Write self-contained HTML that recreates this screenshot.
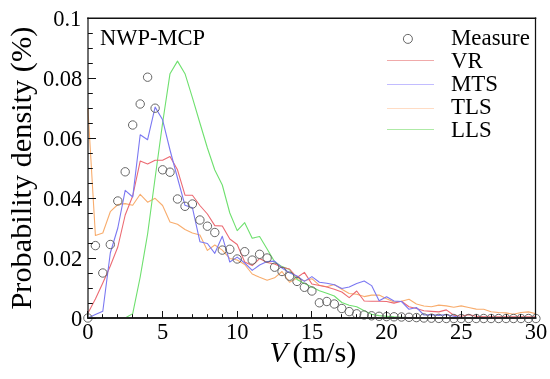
<!DOCTYPE html><html><head><meta charset="utf-8"><style>html,body{margin:0;padding:0;background:#fff}svg{display:block}</style></head><body>
<svg width="550" height="379" viewBox="0 0 550 379" font-family="Liberation Serif, Times New Roman, serif">
<rect width="550" height="379" fill="#fff"/>
<polyline points="87.9,108.5 95.4,235.5 102.8,233.0 110.3,211.7 117.8,204.5 125.2,203.6 132.7,205.3 140.2,194.3 147.6,202.2 155.1,198.3 162.6,205.5 170.0,221.9 177.5,224.3 185.0,229.5 192.4,233.0 199.9,235.0 207.4,250.4 214.8,245.0 222.3,250.1 229.8,258.5 237.2,260.0 244.7,264.5 252.2,274.0 259.6,277.2 267.1,280.2 274.6,277.8 282.0,271.5 289.5,282.2 297.0,278.3 304.4,280.7 311.9,278.7 319.4,285.3 326.8,286.8 334.3,284.5 341.8,289.3 349.2,293.5 356.7,294.2 364.2,296.6 371.6,295.1 379.1,295.1 386.6,298.8 394.0,302.0 401.5,301.2 409.0,299.3 416.4,304.0 423.9,306.0 431.4,306.7 438.8,305.1 446.3,305.9 453.8,307.3 461.2,305.9 468.7,307.5 476.2,309.1 483.7,309.2 491.1,311.8 498.6,312.5 506.1,312.9 513.5,314.2 521.0,312.5 528.5,311.9 535.9,313.8" fill="none" stroke="#f8ad6e" stroke-width="1.1" stroke-linejoin="round"/>
<polyline points="87.9,318.0 95.4,318.0 102.8,318.0 110.3,318.0 117.8,318.0 125.2,318.0 132.7,313.6 140.2,277.0 147.6,234.0 155.1,178.0 162.6,123.0 170.0,73.7 177.5,61.1 185.0,73.7 192.4,97.6 199.9,123.0 207.4,148.0 214.8,170.0 222.3,185.0 229.8,213.0 237.2,230.6 244.7,222.7 252.2,238.2 259.6,236.5 267.1,249.0 274.6,261.7 282.0,266.6 289.5,269.5 297.0,279.5 304.4,283.5 311.9,287.0 319.4,290.7 326.8,293.2 334.3,296.0 341.8,302.5 349.2,305.3 356.7,306.8 364.2,310.8 371.6,314.2 379.1,315.6 386.6,316.3 394.0,316.9 401.5,317.3 409.0,317.8 416.4,317.8 423.9,317.8 431.4,317.8 438.8,317.8 446.3,317.8 453.8,317.8 461.2,317.8 468.7,317.8 476.2,317.8 483.7,317.8 491.1,317.8 498.6,317.8 506.1,317.8 513.5,317.8 521.0,317.8 528.5,317.8 535.9,317.8" fill="none" stroke="#6ee06e" stroke-width="1.1" stroke-linejoin="round"/>
<polyline points="87.9,313.2 95.4,299.0 102.8,283.0 110.3,266.0 117.8,247.0 125.2,215.0 132.7,196.0 140.2,161.1 147.6,163.9 155.1,160.3 162.6,160.3 170.0,156.5 177.5,169.8 185.0,195.2 192.4,195.2 199.9,205.5 207.4,214.0 214.8,225.6 222.3,226.0 229.8,239.0 237.2,244.5 244.7,262.0 252.2,265.6 259.6,258.6 267.1,262.5 274.6,264.0 282.0,267.3 289.5,269.0 297.0,277.5 304.4,272.4 311.9,284.0 319.4,285.5 326.8,287.0 334.3,289.3 341.8,292.0 349.2,297.6 356.7,291.0 364.2,301.0 371.6,301.3 379.1,301.3 386.6,301.5 394.0,303.1 401.5,301.3 409.0,306.8 416.4,308.5 423.9,310.8 431.4,311.4 438.8,311.9 446.3,309.9 453.8,315.2 461.2,316.2 468.7,314.6 476.2,316.2 483.7,316.8 491.1,316.8 498.6,316.8 506.1,316.8 513.5,316.8 521.0,316.8 528.5,316.8 535.9,316.8" fill="none" stroke="#ec6a72" stroke-width="1.1" stroke-linejoin="round"/>
<polyline points="87.9,318.0 95.4,314.5 102.8,311.2 110.3,253.0 117.8,228.0 125.2,190.3 132.7,197.0 140.2,134.8 147.6,139.7 155.1,107.1 162.6,119.8 170.0,150.0 177.5,178.0 185.0,205.3 192.4,207.7 199.9,241.7 207.4,243.5 214.8,253.3 222.3,236.3 229.8,262.0 237.2,257.1 244.7,263.0 252.2,270.4 259.6,265.0 267.1,261.5 274.6,261.1 282.0,268.0 289.5,272.7 297.0,276.0 304.4,281.4 311.9,276.6 319.4,282.2 326.8,283.3 334.3,284.7 341.8,288.5 349.2,287.0 356.7,283.5 364.2,281.0 371.6,285.6 379.1,300.8 386.6,296.7 394.0,301.0 401.5,301.5 409.0,309.3 416.4,307.5 423.9,315.0 431.4,314.6 438.8,315.4 446.3,314.6 453.8,316.2 461.2,317.5 468.7,317.5 476.2,317.5 483.7,317.5 491.1,317.5 498.6,317.5 506.1,317.5 513.5,317.5 521.0,317.5 528.5,317.5 535.9,317.5" fill="none" stroke="#7b78f2" stroke-width="1.1" stroke-linejoin="round"/>
<g fill="none" stroke="#666" stroke-width="1">
<circle cx="87.9" cy="318.0" r="4.2"/>
<circle cx="95.4" cy="245.6" r="4.2"/>
<circle cx="102.8" cy="273.0" r="4.2"/>
<circle cx="110.3" cy="244.5" r="4.2"/>
<circle cx="117.8" cy="201.0" r="4.2"/>
<circle cx="125.2" cy="171.8" r="4.2"/>
<circle cx="132.7" cy="125.0" r="4.2"/>
<circle cx="140.2" cy="104.0" r="4.2"/>
<circle cx="147.6" cy="77.2" r="4.2"/>
<circle cx="155.1" cy="108.2" r="4.2"/>
<circle cx="162.6" cy="169.8" r="4.2"/>
<circle cx="170.0" cy="172.2" r="4.2"/>
<circle cx="177.5" cy="199.0" r="4.2"/>
<circle cx="185.0" cy="206.3" r="4.2"/>
<circle cx="192.4" cy="204.0" r="4.2"/>
<circle cx="199.9" cy="220.0" r="4.2"/>
<circle cx="207.4" cy="226.2" r="4.2"/>
<circle cx="214.8" cy="232.5" r="4.2"/>
<circle cx="222.3" cy="250.1" r="4.2"/>
<circle cx="229.8" cy="249.3" r="4.2"/>
<circle cx="237.2" cy="259.0" r="4.2"/>
<circle cx="244.7" cy="251.7" r="4.2"/>
<circle cx="252.2" cy="260.1" r="4.2"/>
<circle cx="259.6" cy="254.3" r="4.2"/>
<circle cx="267.1" cy="258.0" r="4.2"/>
<circle cx="274.6" cy="267.2" r="4.2"/>
<circle cx="282.0" cy="271.5" r="4.2"/>
<circle cx="289.5" cy="276.2" r="4.2"/>
<circle cx="297.0" cy="281.4" r="4.2"/>
<circle cx="304.4" cy="287.3" r="4.2"/>
<circle cx="311.9" cy="291.0" r="4.2"/>
<circle cx="319.4" cy="302.8" r="4.2"/>
<circle cx="326.8" cy="301.5" r="4.2"/>
<circle cx="334.3" cy="304.0" r="4.2"/>
<circle cx="341.8" cy="308.5" r="4.2"/>
<circle cx="349.2" cy="311.6" r="4.2"/>
<circle cx="356.7" cy="313.8" r="4.2"/>
<circle cx="364.2" cy="315.0" r="4.2"/>
<circle cx="371.6" cy="315.8" r="4.2"/>
<circle cx="379.1" cy="316.3" r="4.2"/>
<circle cx="386.6" cy="316.6" r="4.2"/>
<circle cx="394.0" cy="316.8" r="4.2"/>
<circle cx="401.5" cy="317.0" r="4.2"/>
<circle cx="409.0" cy="317.3" r="4.2"/>
<circle cx="416.4" cy="317.6" r="4.2"/>
<circle cx="423.9" cy="318.0" r="4.2"/>
<circle cx="431.4" cy="318.2" r="4.2"/>
<circle cx="438.8" cy="318.4" r="4.2"/>
<circle cx="446.3" cy="318.5" r="4.2"/>
<circle cx="453.8" cy="318.5" r="4.2"/>
<circle cx="461.2" cy="318.5" r="4.2"/>
<circle cx="468.7" cy="318.5" r="4.2"/>
<circle cx="476.2" cy="318.5" r="4.2"/>
<circle cx="483.7" cy="318.5" r="4.2"/>
<circle cx="491.1" cy="318.5" r="4.2"/>
<circle cx="498.6" cy="318.5" r="4.2"/>
<circle cx="506.1" cy="318.5" r="4.2"/>
<circle cx="513.5" cy="318.5" r="4.2"/>
<circle cx="521.0" cy="318.5" r="4.2"/>
<circle cx="528.5" cy="318.5" r="4.2"/>
<circle cx="535.9" cy="318.5" r="4.2"/>
</g>
<g stroke="#111" fill="none" stroke-linecap="square"><path d="M88.0,18.2V318.0" stroke-width="1.3" stroke="#222"/><path d="M88.0,18.2H535.5" stroke-width="1.6"/><path d="M535.5,18.2V318.0" stroke-width="1.25"/><path d="M88.0,318.0H535.5" stroke-width="1.8" stroke="#262626"/></g>
<path d="M88.0,318.5h8 M88.0,303.5h4.8 M88.0,288.5h4.8 M88.0,273.5h4.8 M88.0,258.5h8 M88.0,243.5h4.8 M88.0,228.5h4.8 M88.0,213.5h4.8 M88.0,198.5h8 M88.0,183.5h4.8 M88.0,168.5h4.8 M88.0,153.5h4.8 M88.0,138.5h8 M88.0,123.5h4.8 M88.0,108.5h4.8 M88.0,93.5h4.8 M88.0,78.5h8 M88.0,63.5h4.8 M88.0,48.5h4.8 M88.0,33.5h4.8 M88.0,18.5h8 M87.5,318.0v-7 M102.5,318.0v-3.8 M117.5,318.0v-3.8 M132.5,318.0v-3.8 M147.5,318.0v-3.8 M162.5,318.0v-7 M177.5,318.0v-3.8 M192.5,318.0v-3.8 M207.5,318.0v-3.8 M222.5,318.0v-3.8 M237.5,318.0v-7 M252.5,318.0v-3.8 M267.5,318.0v-3.8 M282.5,318.0v-3.8 M296.5,318.0v-3.8 M311.5,318.0v-7 M326.5,318.0v-3.8 M341.5,318.0v-3.8 M356.5,318.0v-3.8 M371.5,318.0v-3.8 M386.5,318.0v-7 M401.5,318.0v-3.8 M416.5,318.0v-3.8 M431.5,318.0v-3.8 M446.5,318.0v-3.8 M461.5,318.0v-7 M476.5,318.0v-3.8 M491.5,318.0v-3.8 M506.5,318.0v-3.8 M520.5,318.0v-3.8 M535.5,318.0v-7" stroke="#111" stroke-width="1" fill="none"/>
<text x="82.3" y="326.1" font-size="22.5" text-anchor="end">0</text>
<text x="82.3" y="266.1" font-size="22.5" text-anchor="end">0.02</text>
<text x="82.3" y="206.1" font-size="22.5" text-anchor="end">0.04</text>
<text x="82.3" y="146.1" font-size="22.5" text-anchor="end">0.06</text>
<text x="82.3" y="86.1" font-size="22.5" text-anchor="end">0.08</text>
<text x="81.3" y="26.1" font-size="22.5" text-anchor="end">0.1</text>
<text x="87.9" y="339" font-size="22.5" text-anchor="middle">0</text>
<text x="162.6" y="339" font-size="22.5" text-anchor="middle">5</text>
<text x="237.2" y="339" font-size="22.5" text-anchor="middle">10</text>
<text x="311.9" y="339" font-size="22.5" text-anchor="middle">15</text>
<text x="386.6" y="339" font-size="22.5" text-anchor="middle">20</text>
<text x="461.2" y="339" font-size="22.5" text-anchor="middle">25</text>
<text x="535.9" y="339" font-size="22.5" text-anchor="middle">30</text>
<text x="100" y="44.8" font-size="22.5">NWP-MCP</text>
<text transform="translate(31.2,309.5) rotate(-90)" font-size="30.3">Probability density (%)</text>
<text x="269.5" y="362.4" font-size="29.5" font-style="italic">V</text>
<text x="292.4" y="362.4" font-size="30.3">(m/s)</text>
<circle cx="407.9" cy="38.9" r="4.5" fill="none" stroke="#666" stroke-width="1"/>
<line x1="387" y1="60.5" x2="434" y2="60.5" stroke="#f0aaaa" stroke-width="1"/>
<line x1="387" y1="84.5" x2="434" y2="84.5" stroke="#c2bcff" stroke-width="1"/>
<line x1="387" y1="108.5" x2="434" y2="108.5" stroke="#ffdcc4" stroke-width="1"/>
<line x1="387" y1="129.5" x2="434" y2="129.5" stroke="#aeeaa6" stroke-width="1"/>
<text x="451" y="44.7" font-size="22.9">Measure</text>
<text x="451" y="67.5" font-size="22.9">VR</text>
<text x="451" y="91.1" font-size="22.9">MTS</text>
<text x="451" y="113.9" font-size="22.9">TLS</text>
<text x="451" y="136.6" font-size="22.9">LLS</text>
</svg></body></html>
